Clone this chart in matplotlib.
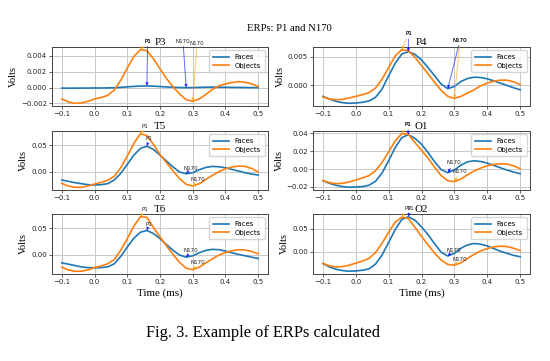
import numpy as np
import matplotlib.pyplot as plt

SERIF = 'Liberation Serif'

# time axis (s), sampled every 20 ms
time = np.linspace(-0.1, 0.5, 31)

# P3 / P4 values read in units of 1e-3 V
p3_faces = np.array([-0.08, -0.08, -0.08, -0.07, -0.07, -0.06, -0.06, -0.05, -0.03, 0.02,
                     0.08, 0.14, 0.18, 0.20, 0.17, 0.12, 0.07, 0.03, 0.00, -0.02,
                     -0.01, 0.02, 0.04, 0.05, 0.04, 0.03, 0.02, 0.01, 0.00, -0.01, -0.02]) * 1e-3
p3_objects = np.array([-1.44, -1.81, -1.98, -1.94, -1.73, -1.44, -1.24, -0.99, -0.33, 0.91,
                       2.43, 3.88, 4.74, 4.62, 3.59, 2.35, 1.11, 0.08, -0.82, -1.53,
                       -1.73, -1.44, -0.87, -0.25, 0.21, 0.45, 0.62, 0.74, 0.66, 0.45, 0.12]) * 1e-3

p4_faces = np.array([-1.90, -2.36, -2.76, -2.99, -3.10, -3.05, -2.93, -2.70, -2.07, -0.63,
                     1.67, 3.85, 5.46, 5.86, 5.40, 4.43, 3.10, 1.67, 0.23, -0.57,
                     -0.17, 0.69, 1.21, 1.44, 1.38, 1.15, 0.80, 0.40, 0.00, -0.40, -0.75]) * 1e-3
p4_objects = np.array([-2.01, -2.36, -2.47, -2.41, -2.18, -1.90, -1.61, -1.26, -0.46, 1.09,
                       3.10, 5.11, 6.21, 6.03, 4.89, 3.45, 2.01, 0.52, -0.86, -1.90,
                       -2.24, -1.90, -1.32, -0.75, -0.06, 0.40, 0.75, 0.92, 0.92, 0.63, 0.17]) * 1e-3

t5_faces = [-0.0158, -0.0184, -0.0209, -0.0228, -0.0247, -0.0253, -0.0247, -0.0228, -0.0158, -0.0032,
            0.0139, 0.0316, 0.0443, 0.0487, 0.0424, 0.0316, 0.0203, 0.0089, -0.0006, -0.0038,
            -0.0019, 0.0038, 0.0082, 0.0101, 0.0095, 0.0076, 0.0044, 0.0013, -0.0019, -0.0044, -0.0063]
t5_objects = [-0.0222, -0.0272, -0.0297, -0.0297, -0.0272, -0.0234, -0.0203, -0.0165, -0.0089, 0.0076,
              0.0297, 0.0538, 0.0725, 0.0690, 0.0519, 0.0329, 0.0171, 0.0013, -0.0133, -0.0241,
              -0.0272, -0.0228, -0.0146, -0.0070, 0.0000, 0.0057, 0.0089, 0.0108, 0.0101, 0.0063, -0.0006]

o1_faces = [-0.0130, -0.0159, -0.0181, -0.0196, -0.0204, -0.0200, -0.0196, -0.0181, -0.0137, -0.0044,
            0.0093, 0.0241, 0.0352, 0.0385, 0.0344, 0.0278, 0.0185, 0.0081, -0.0007, -0.0041,
            -0.0011, 0.0044, 0.0081, 0.0093, 0.0085, 0.0067, 0.0041, 0.0015, -0.0011, -0.0033, -0.0052]
o1_objects = [-0.0130, -0.0152, -0.0163, -0.0159, -0.0144, -0.0122, -0.0100, -0.0074, -0.0019, 0.0074,
              0.0193, 0.0315, 0.0396, 0.0389, 0.0296, 0.0211, 0.0122, 0.0019, -0.0074, -0.0130,
              -0.0141, -0.0111, -0.0063, -0.0022, 0.0011, 0.0037, 0.0052, 0.0059, 0.0056, 0.0037, 0.0004]

t6_faces = [-0.0154, -0.0179, -0.0205, -0.0231, -0.0244, -0.0250, -0.0244, -0.0231, -0.0173, -0.0032,
            0.0147, 0.0314, 0.0429, 0.0462, 0.0404, 0.0308, 0.0192, 0.0083, -0.0006, -0.0045,
            -0.0019, 0.0038, 0.0083, 0.0103, 0.0096, 0.0071, 0.0038, 0.0006, -0.0019, -0.0045, -0.0071]
t6_objects = [-0.0237, -0.0288, -0.0314, -0.0314, -0.0288, -0.0244, -0.0212, -0.0173, -0.0090, 0.0083,
              0.0308, 0.0545, 0.0724, 0.0712, 0.0519, 0.0340, 0.0167, 0.0006, -0.0147, -0.0256,
              -0.0282, -0.0237, -0.0154, -0.0077, -0.0006, 0.0045, 0.0077, 0.0096, 0.0090, 0.0064, 0.0019]

o2_faces = [-0.0250, -0.0324, -0.0375, -0.0404, -0.0419, -0.0412, -0.0397, -0.0368, -0.0265, -0.0066,
            0.0206, 0.0485, 0.0706, 0.0765, 0.0691, 0.0544, 0.0375, 0.0176, -0.0007, -0.0088,
            -0.0029, 0.0081, 0.0154, 0.0184, 0.0169, 0.0132, 0.0074, 0.0015, -0.0029, -0.0074, -0.0103]
o2_objects = [-0.0250, -0.0301, -0.0324, -0.0316, -0.0287, -0.0243, -0.0199, -0.0140, -0.0015, 0.0191,
              0.0426, 0.0647, 0.0757, 0.0728, 0.0537, 0.0338, 0.0154, -0.0029, -0.0176, -0.0272,
              -0.0287, -0.0235, -0.0140, -0.0051, 0.0022, 0.0074, 0.0110, 0.0125, 0.0118, 0.0081, 0.0029]

channels = ['P3', 'P4', 'T5', 'O1', 'T6', 'O2']
faces = [p3_faces, p4_faces, t5_faces, o1_faces, t6_faces, o2_faces]
objects = [p3_objects, p4_objects, t5_objects, o1_objects, t6_objects, o2_objects]

# where the labels sit (data coords), [faces, objects]
label_pos = {
    'P3': {'P1': [(0.152, 0.0056), (0.152, 0.0056)], 'N170': [(0.248, 0.0056), (0.291, 0.0053)]},
    'P4': {'P1': [(0.150, 0.0087), (0.150, 0.0087)], 'N170': [(0.295, 0.0076), (0.295, 0.0076)]},
    'T5': {'P1': [(0.157, 0.0608), (0.145, 0.0835)], 'N170': [(0.272, 0.0038), (0.292, -0.0184)]},
    'O1': {'P1': [(0.148, 0.0478), (0.148, 0.0478)], 'N170': [(0.275, 0.0052), (0.295, -0.0048)]},
    'T6': {'P1': [(0.155, 0.0545), (0.145, 0.0833)], 'N170': [(0.272, 0.0045), (0.292, -0.0180)]},
    'O2': {'P1': [(0.156, 0.0910), (0.148, 0.0910)], 'N170': [(0.275, 0.0010), (0.295, -0.0200)]},
}

col_left = [52 / 550, 313 / 550]
col_w = [216 / 550, 217 / 550]
row_box = [(0.7064, 0.1634), (0.4737, 0.1634), (0.2410, 0.1662)]


def find_peak(t, v, lo, hi, mode):
    idx = np.where((t >= lo) & (t <= hi))[0]
    i = idx[np.argmax(v[idx])] if mode == 'max' else idx[np.argmin(v[idx])]
    return t[i], v[i]


fig = plt.figure(figsize=(5.5, 3.61), dpi=100)

for k, ch in enumerate(channels):
    r, c = divmod(k, 2)
    ax = fig.add_axes([col_left[c], row_box[r][0], col_w[c], row_box[r][1]])
    vf = np.asarray(faces[k])
    vo = np.asarray(objects[k])
    ax.plot(time, vf, color='#1f77b4', lw=1.2, label='Faces')
    ax.plot(time, vo, color='#ff7f0e', lw=1.2, label='Objects')
    ax.grid(True, color='#c8c8c8', lw=0.7)
    ax.set_axisbelow(True)
    ax.set_xticks([-0.1, 0.0, 0.1, 0.2, 0.3, 0.4, 0.5])
    ax.tick_params(labelsize=5.0, length=2.2, width=0.5, pad=1.5, colors='#222222')
    for s in ax.spines.values():
        s.set_linewidth(0.7)
        s.set_color('#444444')
    ax.set_title(ch, family=SERIF, fontsize=7.8, pad=1.5)
    ax.set_ylabel('Volts', family=SERIF, fontsize=7.4, labelpad=2)
    if r == 2:
        ax.set_xlabel('Time (ms)', family=SERIF, fontsize=7.9, labelpad=2)
    ax.legend(loc='upper right', fontsize=5.0, handlelength=2.4, borderpad=0.5,
              labelspacing=0.4, framealpha=0.8)

    for j, (v, arrow_c) in enumerate([(vf, 'blue'), (vo, 'orange')]):
        for name, lo, hi, mode in [('P1', 0.1, 0.2, 'max'), ('N170', 0.24, 0.34, 'min')]:
            px, py = find_peak(time, v, lo, hi, mode)
            ax.annotate(name, xy=(px, py), xytext=label_pos[ch][name][j], fontsize=4.0,
                        color='#222222', annotation_clip=False,
                        arrowprops=dict(arrowstyle='-|>', color=arrow_c, alpha=0.6, lw=0.7,
                                        mutation_scale=4, shrinkA=0, shrinkB=0))

fig.text(0.526, 0.92, 'ERPs: P1 and N170', ha='center', va='center', family=SERIF, fontsize=7.7)
fig.text(0.479, 0.0776, 'Fig. 3. Example of ERPs calculated', ha='center', va='center',
         family=SERIF, fontsize=11.8)

fig.savefig('out.png', dpi=100)
